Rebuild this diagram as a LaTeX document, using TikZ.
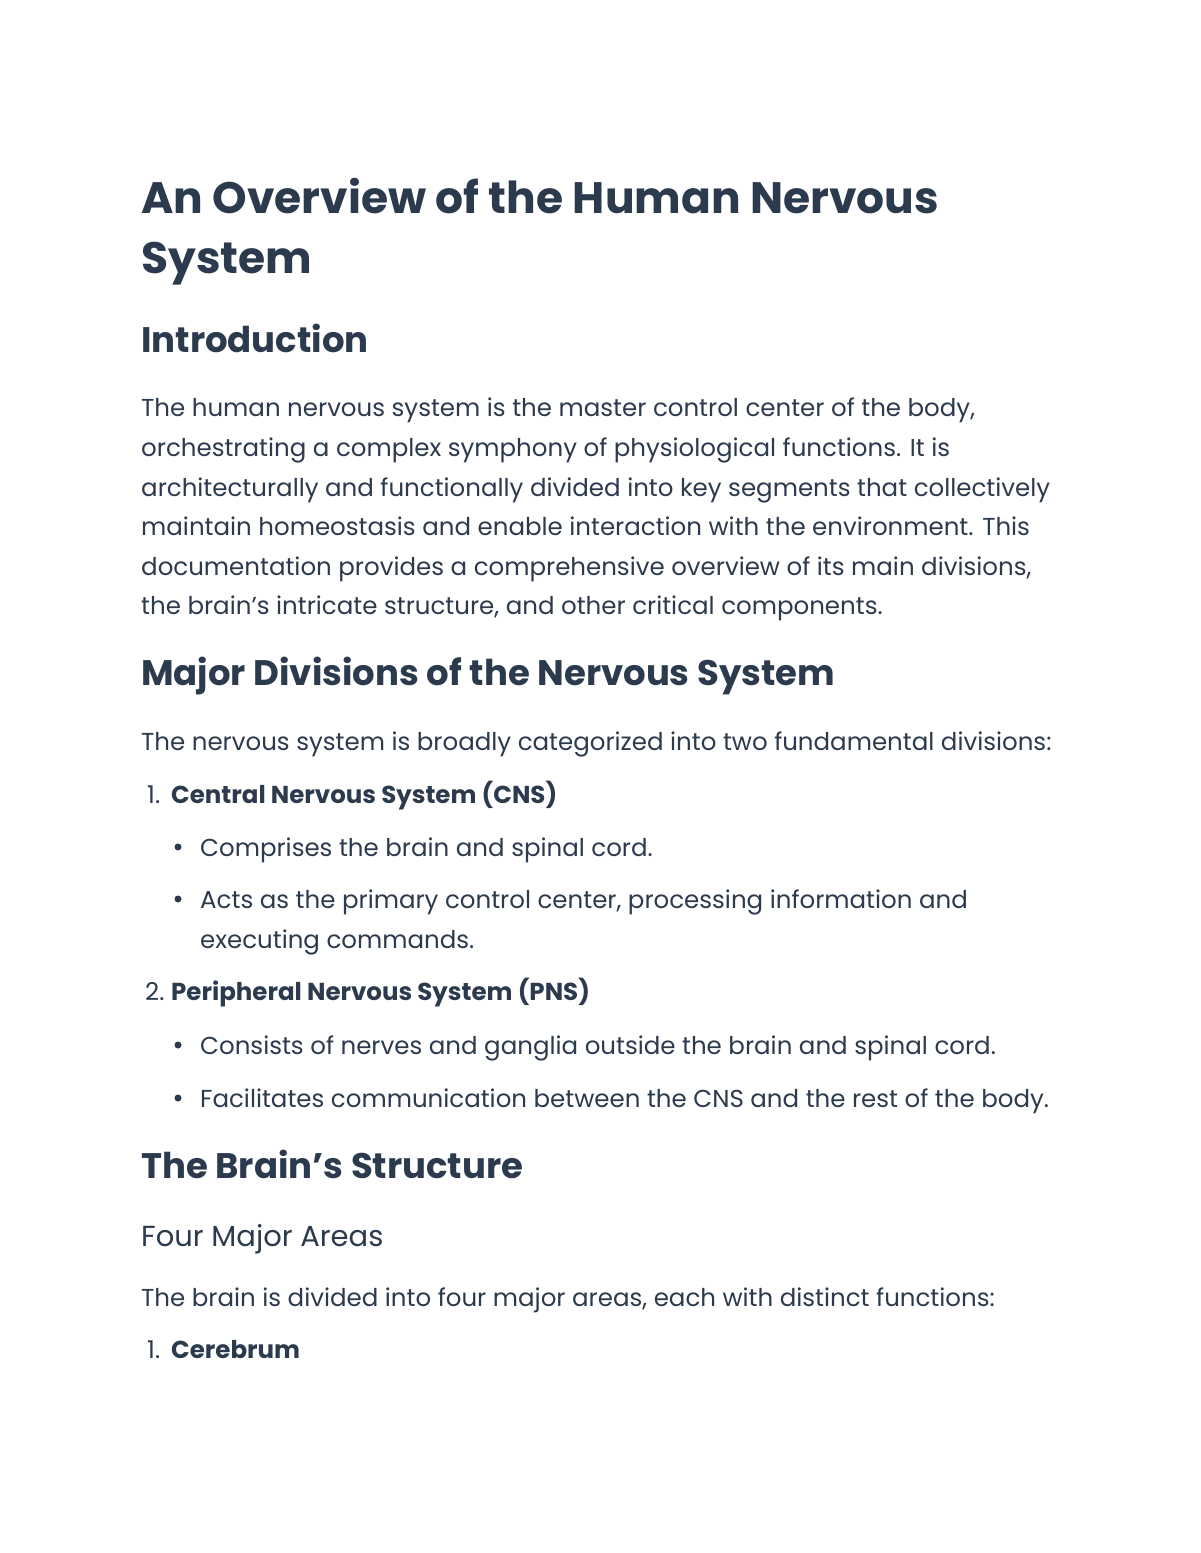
\documentclass[tikz,border=0pt]{standalone}
\usepackage{fontspec}
\setmainfont{Poppins}[Ligatures=NoCommon]
\definecolor{ink}{HTML}{2C3A4D}
\begin{document}
\begin{tikzpicture}[x=1pt,y=-1pt,
  every node/.style={anchor=base west,inner sep=0pt,text=ink},
  body/.style={font=\fontsize{24.5}{28}\selectfont},
  bodyb/.style={font=\fontsize{24.5}{28}\selectfont\bfseries},
  htitle/.style={font=\fontsize{44}{50}\selectfont\bfseries},
  hsec/.style={font=\fontsize{35.5}{40}\selectfont\bfseries},
  hsub/.style={font=\fontsize{29}{32}\selectfont}]
\useasboundingbox[fill=white] (0,0) rectangle (1200,1553);
\node[htitle] (t1) at (141,213) {An Overview of the Human Nervous};
\node[htitle] (t2) at (141,273) {System};
\node[hsec] (h1) at (141,352) {Introduction};
\node[body] (p1) at (141,416) {The human nervous system is the master control center of the body,};
\node[body] (p2) at (141,456) {orchestrating a complex symphony of physiological functions. It is};
\node[body] (p3) at (141,496) {architecturally and functionally divided into key segments that collectively};
\node[body] (p4) at (141,535) {maintain homeostasis and enable interaction with the environment. This};
\node[body] (p5) at (141,575) {documentation provides a comprehensive overview of its main divisions,};
\node[body] (p6) at (141,614) {the brain's intricate structure, and other critical components.};
\node[hsec] (h2) at (141,685) {Major Divisions of the Nervous System};
\node[body] (q1) at (141,750) {The nervous system is broadly categorized into two fundamental divisions:};
\node[body] (n1) at (147,803) {1.};
\node[bodyb] (c1) at (171,803) {Central Nervous System (CNS)};
\fill[ink] (178,847) circle (3.5);
\node[body] (b1) at (200,856) {Comprises the brain and spinal cord.};
\fill[ink] (178,899) circle (3.5);
\node[body] (b2) at (200,908) {Acts as the primary control center, processing information and};
\node[body] (b2b) at (200,948) {executing commands.};
\node[body] (n2) at (145,1000) {2.};
\node[bodyb] (c2) at (171,1000) {Peripheral Nervous System (PNS)};
\fill[ink] (178,1045) circle (3.5);
\node[body] (b3) at (200,1054) {Consists of nerves and ganglia outside the brain and spinal cord.};
\fill[ink] (178,1098) circle (3.5);
\node[body] (b4) at (200,1107) {Facilitates communication between the CNS and the rest of the body.};
\node[hsec] (h3) at (141,1178) {The Brain’s Structure};
\node[hsub] (s1) at (141,1246) {Four Major Areas};
\node[body] (r1) at (141,1306) {The brain is divided into four major areas, each with distinct functions:};
\node[body] (n3) at (147,1358) {1.};
\node[bodyb] (c3) at (171,1358) {Cerebrum};
\end{tikzpicture}
\end{document}
